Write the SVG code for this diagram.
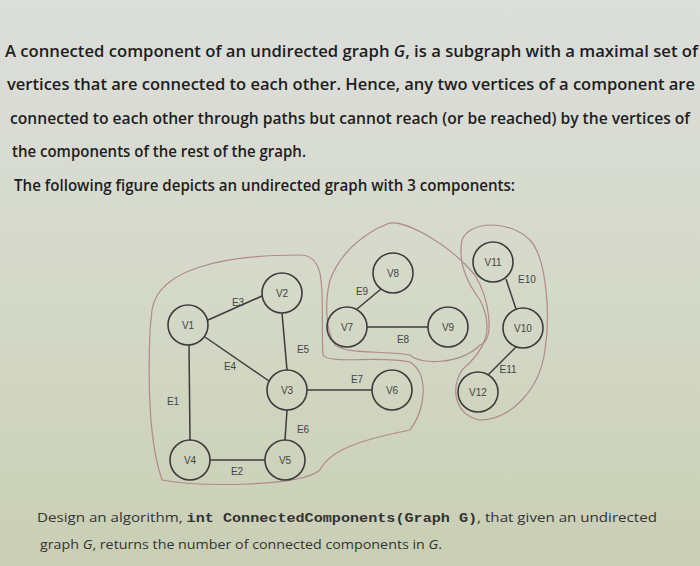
<svg xmlns="http://www.w3.org/2000/svg" width="700" height="566" viewBox="0 0 700 566">
<defs>
<linearGradient id="bg" x1="0" y1="0" x2="0" y2="1">
<stop offset="0" stop-color="#dcdedb"/><stop offset="0.5" stop-color="#d5d9c9"/><stop offset="1" stop-color="#c9cfb4"/>
</linearGradient>
<style>
.t{font-family:"Open Sans","Liberation Sans",sans-serif;font-size:16px;font-weight:600;fill:#1e1e1e}
.b{font-family:"Open Sans","Liberation Sans",sans-serif;font-size:13.5px;fill:#333}
.m{font-family:"Liberation Mono",monospace;font-weight:bold}
.n circle{fill:none;stroke:#3c3c3c;stroke-width:1.6}
.n text,.el{font-family:"Liberation Sans",sans-serif;font-size:10px;fill:#444;text-anchor:middle}
.e line{stroke:#3c3c3c;stroke-width:1.5}
.r{fill:none;stroke:#b08a8a;stroke-width:1.2}
</style>
</defs>
<rect width="700" height="566" fill="url(#bg)"/>
<text class="t" x="5" y="57" textLength="693" lengthAdjust="spacingAndGlyphs">A connected component of an undirected graph <tspan font-style="italic">G</tspan>, is a subgraph with a maximal set of</text>
<text class="t" x="7" y="90" textLength="688" lengthAdjust="spacingAndGlyphs">vertices that are connected to each other. Hence, any two vertices of a component are</text>
<text class="t" x="10" y="124" textLength="680" lengthAdjust="spacingAndGlyphs">connected to each other through paths but cannot reach (or be reached) by the vertices of</text>
<text class="t" x="12" y="157" textLength="294" lengthAdjust="spacingAndGlyphs">the components of the rest of the graph.</text>
<text class="t" x="14" y="191" textLength="501" lengthAdjust="spacingAndGlyphs">The following figure depicts an undirected graph with 3 components:</text>
<text class="b" x="37" y="522" textLength="620" lengthAdjust="spacingAndGlyphs">Design an algorithm, <tspan class="m">int ConnectedComponents(Graph G)</tspan>, that given an undirected</text>
<text class="b" x="40" y="549" textLength="402" lengthAdjust="spacingAndGlyphs">graph <tspan font-style="italic">G</tspan>, returns the number of connected components in <tspan font-style="italic">G</tspan>.</text>
<g id="outlines">
<path class="r" d="M152,310 C158,270 220,255 300,255 C330,255 320,300 323,355 C330,365 380,355 410,362 C430,375 425,410 410,430 C360,440 330,450 320,470 C300,487 200,487 162,480 C148,440 148,380 150,330 Z"/>
<path class="r" d="M330,280 C345,240 385,225 385,225 C400,215 450,245 475,275 C490,300 495,340 480,345 C460,365 420,365 410,355 C380,350 350,355 335,345 C325,330 325,300 330,280 Z"/>
<path class="r" d="M462,240 C470,220 510,220 530,240 C548,260 550,320 545,350 C540,390 510,420 480,420 C455,415 450,390 462,370 C485,350 495,330 480,300 C465,280 458,260 462,240 Z"/>
</g>
<g id="connectors" class="e">
<line x1="208" y1="320" x2="262" y2="296"/>
<line x1="205" y1="337" x2="269" y2="381"/>
<line x1="282" y1="313" x2="287" y2="370"/>
<line x1="189" y1="345" x2="190" y2="440"/>
<line x1="210" y1="460" x2="265" y2="460"/>
<line x1="287" y1="410" x2="285" y2="440"/>
<line x1="307" y1="390" x2="372" y2="390"/>
<line x1="367" y1="327" x2="428" y2="327"/>
<line x1="357" y1="309" x2="381" y2="289"/>
<line x1="506" y1="279" x2="516" y2="309"/>
<line x1="516" y1="347" x2="488" y2="375"/>
</g>
<g id="edge-labels">
<text class="el" x="238" y="306">E3</text><text class="el" x="230" y="370">E4</text>
<text class="el" x="303" y="353">E5</text><text class="el" x="173" y="405">E1</text>
<text class="el" x="237" y="475">E2</text><text class="el" x="303" y="433">E6</text>
<text class="el" x="357" y="383">E7</text><text class="el" x="403" y="343">E8</text>
<text class="el" x="362" y="295">E9</text><text class="el" x="527" y="283">E10</text>
<text class="el" x="508" y="373">E11</text>
</g>
<g id="V1" class="n"><circle cx="188" cy="325" r="20"/><text x="188" y="329">V1</text></g>
<g id="V2" class="n"><circle cx="282" cy="293" r="20"/><text x="282" y="297">V2</text></g>
<g id="V3" class="n"><circle cx="287" cy="390" r="20"/><text x="287" y="394">V3</text></g>
<g id="V4" class="n"><circle cx="190" cy="460" r="20"/><text x="190" y="464">V4</text></g>
<g id="V5" class="n"><circle cx="285" cy="460" r="20"/><text x="285" y="464">V5</text></g>
<g id="V6" class="n"><circle cx="392" cy="390" r="20"/><text x="392" y="394">V6</text></g>
<g id="V7" class="n"><circle cx="347" cy="327" r="20"/><text x="347" y="331">V7</text></g>
<g id="V8" class="n"><circle cx="393" cy="273" r="20"/><text x="393" y="277">V8</text></g>
<g id="V9" class="n"><circle cx="448" cy="327" r="20"/><text x="448" y="331">V9</text></g>
<g id="V10" class="n"><circle cx="523" cy="328" r="20"/><text x="523" y="332">V10</text></g>
<g id="V11" class="n"><circle cx="493" cy="262" r="20"/><text x="493" y="266">V11</text></g>
<g id="V12" class="n"><circle cx="478" cy="392" r="20"/><text x="478" y="396">V12</text></g>
</svg>
